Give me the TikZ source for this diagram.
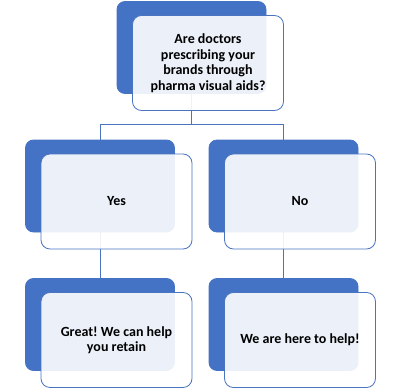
\documentclass[tikz,border=0pt]{standalone}
\usepackage{fontspec}
\setmainfont{Carlito}
\frenchspacing
\definecolor{accent}{HTML}{4472C4}
\definecolor{edge}{HTML}{4A74C0}
\begin{document}
\begin{tikzpicture}[x=1pt,y=-1pt,
  backbox/.style={draw=accent,fill=accent,rounded corners=8pt,minimum width=149pt,minimum height=92pt,inner sep=0pt,line width=0.8pt},
  frontbox/.style={draw=edge,fill=white,fill opacity=0.9,text opacity=1,rounded corners=9pt,minimum width=151pt,minimum height=95pt,inner sep=0pt,line width=0.8pt,align=center,font=\fontsize{14}{15.5}\selectfont\bfseries\frenchspacing,text=black},
  conn/.style={draw=edge,line width=0.8pt}]
\useasboundingbox (0,0) rectangle (400,388);
\node[backbox] (tb) at (191.5,47.5) {};
\node[backbox] (yb) at (100,186) {};
\node[backbox] (nb) at (283.5,186) {};
\node[backbox] (gb) at (100,324.5) {};
\node[backbox] (hb) at (283.5,324.5) {};
\coordinate (bar) at (0,124);
\draw[conn] (tb.south) -- (tb.south |- bar) -| (yb.north);
\draw[conn] (tb.south |- bar) -| (nb.north);
\draw[conn] (yb.south) -- (gb.north);
\draw[conn] (nb.south) -- (hb.north);
\node[frontbox] (tf) at (208,63) {Are doctors\\prescribing your\\brands through\\pharma visual aids?};
\node[frontbox] (yf) at (116.5,201.5) {Yes};
\node[frontbox] (nf) at (300,201.5) {No};
\node[frontbox] (gf) at (116.5,340) {Great! We can help\\you retain};
\node[frontbox] (hf) at (300,340) {We are here to help!};
\end{tikzpicture}
\end{document}
